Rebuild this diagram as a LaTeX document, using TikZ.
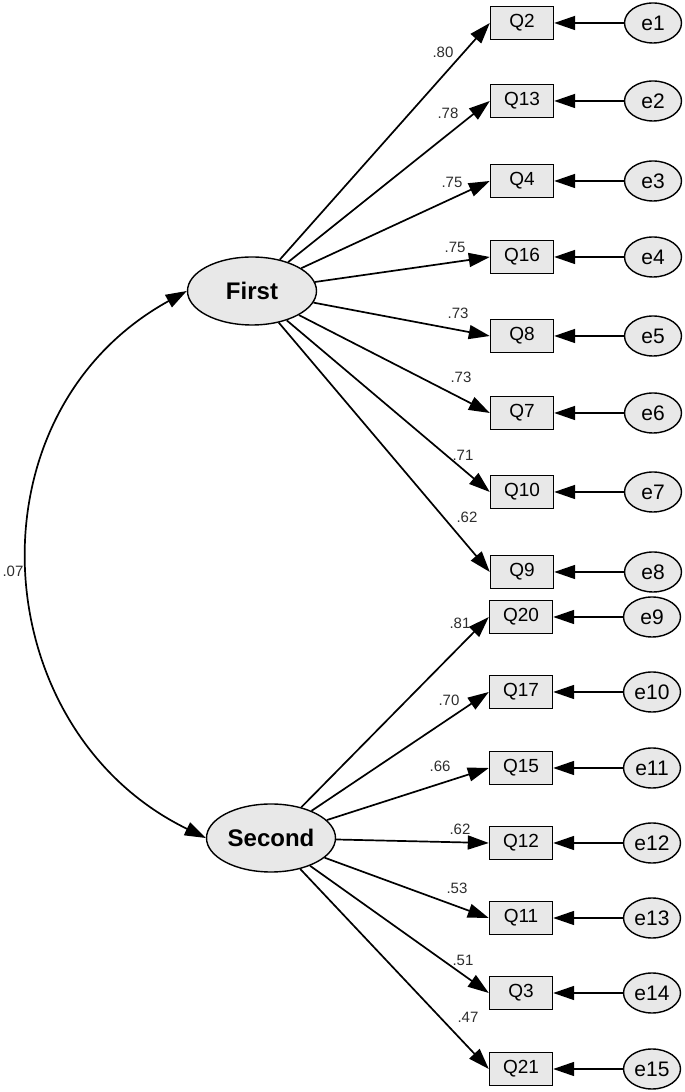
\documentclass[tikz,border=0pt]{standalone}
\usepackage{fontspec}
\setmainfont{Liberation Sans}
\usetikzlibrary{arrows.meta}
\usetikzlibrary{shapes.geometric}
\definecolor{fillgray}{RGB}{232,232,232}
\definecolor{numgray}{RGB}{45,45,45}
\tikzset{
	obs/.style={draw,line width=1.4pt,fill=fillgray,minimum width=63pt,minimum height=33pt,inner sep=0pt,font=\fontsize{19}{22}\selectfont},
	err/.style={ellipse,draw,line width=1.4pt,fill=fillgray,minimum width=57pt,minimum height=40pt,inner sep=0pt,font=\fontsize{21}{24}\selectfont},
	lat/.style={ellipse,draw,line width=1.4pt,fill=fillgray,minimum width=129pt,minimum height=68pt,inner sep=0pt,font=\fontsize{24}{28}\selectfont\bfseries},
	tip/.style={Triangle[length=21pt,width=14pt]},
	arr/.style={-{Triangle[length=21pt,width=14pt]},line width=1.7pt},
	lbl/.style={font=\fontsize{15}{18}\selectfont,text=numgray,inner sep=0pt}
}
\begin{document}
\begin{tikzpicture}[x=1pt,y=1pt]
		\useasboundingbox (0,0) rectangle (685,1092);
		% latent factors
		\node[lat] (first) at (252,801) {First};
		\node[lat] (second) at (271,254) {Second};
		% covariance
		\draw[{Triangle[length=21pt,width=14pt]}-{Triangle[length=21pt,width=14pt]},line width=1.7pt]
		(first.west) .. controls (-36,678) and (-16,362) .. (second.west);
		\node[lbl] (cov) at (13,521) {.07};
		% items of First
		\foreach \q/\y/\e/\v/\lx/\ly in {2/1069/1/.80/443/1040,13/991/2/.78/448/979,4/911/3/.75/452/910,16/835/4/.75/455/845,8/756/5/.73/458/779,7/679/6/.73/461/715,10/600/7/.71/463/637,9/520/8/.62/467/575}{
			\node[obs] (q\q) at (522,\y) {Q\q};
			\node[err] (e\e) at (653,\y) {e\e};
			\draw[arr] (e\e) -- (q\q);
			\draw[arr] (first) -- (q\q.west);
			\node[lbl] (l\q) at (\lx,\ly) {\v};
		}
		% items of Second
		\foreach \q/\y/\e/\v/\lx/\ly in {20/475/9/.81/460/469,17/400/10/.70/449/392,15/324/11/.66/440/326,12/249/12/.62/460/263,11/174/13/.53/457/204,3/99/14/.51/463/132,21/23/15/.47/468/75}{
			\node[obs] (q\q) at (521,\y) {Q\q};
			\node[err] (e\e) at (652,\y) {e\e};
			\draw[arr] (e\e) -- (q\q);
			\draw[arr] (second) -- (q\q.west);
			\node[lbl] (l\q) at (\lx,\ly) {\v};
		}
	\end{tikzpicture}
\end{document}
